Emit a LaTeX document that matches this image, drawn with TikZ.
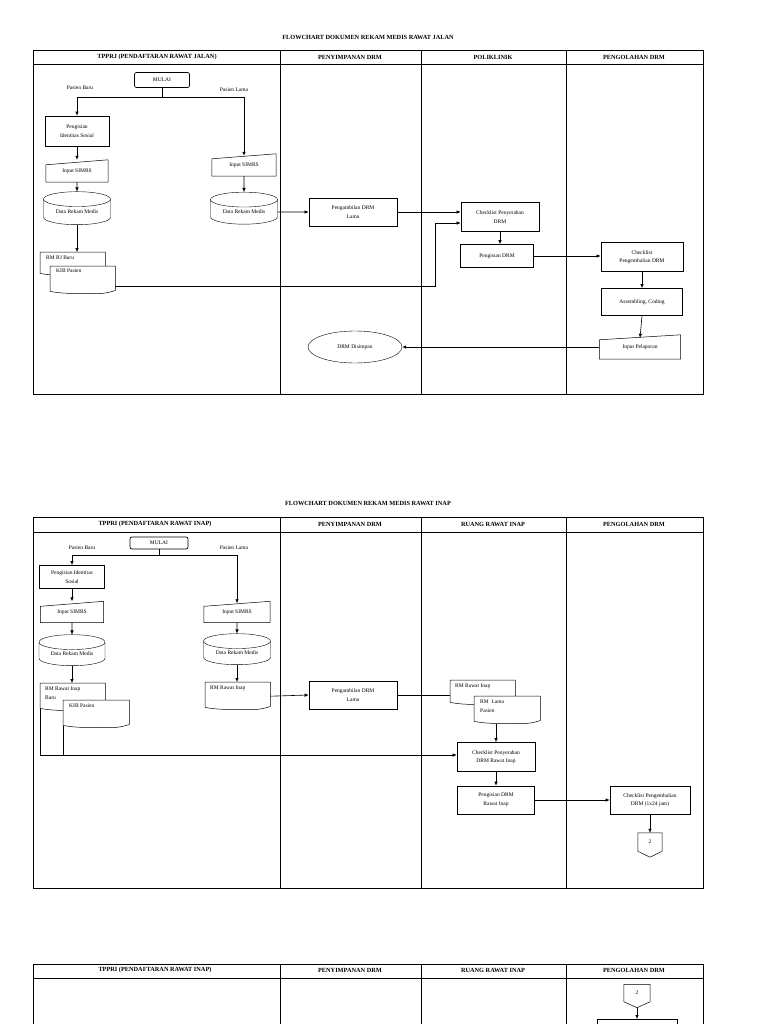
\documentclass[tikz,border=0pt]{standalone}
\usepackage{fontspec}
\setmainfont{Liberation Serif}
\usetikzlibrary{shapes.geometric,arrows.meta}
\begin{document}
\begin{tikzpicture}[x=1pt,y=-1pt,
  txt/.style={font=\fontsize{5.5}{6.5}\selectfont,align=center,inner sep=0pt},
  hd/.style={font=\fontsize{6.3}{7}\selectfont\bfseries,inner sep=0pt},
  proc/.style={txt,draw,line width=0.7pt},
  dbox/.style={txt,fill=white},
  cyl/.style={txt,draw,cylinder,shape border rotate=90,aspect=0.35,fill=white},
  arr/.style={-{Latex[length=4pt,width=3.5pt]},line width=0.6pt},
  ln/.style={line width=0.6pt}]
\useasboundingbox (0,0) rectangle (768,1024);
\clip (0,0) rectangle (768,1024);
\newcommand\docshp[1]{\draw[fill=white,line width=0.5pt] ([yshift=3pt]#1.south west) -- (#1.north west) -- (#1.north east) -- ([yshift=4pt]#1.south east) to[out=200,in=0] ([yshift=1pt]#1.south) to[out=180,in=-10] ([yshift=3pt]#1.south west);}
\newcommand\mishp[1]{\draw[fill=white,line width=0.5pt] ([yshift=-5pt]#1.north west) -- (#1.north east) -- (#1.south east) -- (#1.south west) -- cycle;}
\newcommand\offp[1]{\draw[line width=0.5pt] (#1.north west) -- (#1.north east) -- ([yshift=6pt]#1.south east) -- (#1.south) -- ([yshift=6pt]#1.south west) -- cycle;}
\newcommand\lanes[3]{%
 \draw[line width=0.8pt] (33,#1) rectangle (703,#3);
 \draw[line width=0.6pt] (33,#2) -- (703,#2);
 \foreach \xx in {280,421,566} \draw[line width=0.6pt] (\xx,#1) -- (\xx,#3);}
% ===== Chart 1
\node[hd] (t1) at (368,37) {FLOWCHART DOKUMEN REKAM MEDIS RAWAT JALAN};
\lanes{50}{64}{394}
\node[hd] (h11) at (157,57) {TPPRJ (PENDAFTARAN RAWAT JALAN)};
\node[hd] (h12) at (350,57) {PENYIMPANAN DRM};
\node[hd] (h13) at (493,57) {POLIKLINIK};
\node[hd] (h14) at (634,57) {PENGOLAHAN DRM};
\node[proc,rounded corners=2pt,minimum width=55,minimum height=15] (m1) at (162,80) {MULAI};
\coordinate (b1) at (162,97);
\coordinate (bl1) at (77,97);
\coordinate (br1) at (244,97);
\node[txt] (pb1) at (80,88) {Pasien Baru};
\node[txt] (pl1) at (234,90) {Pasien Lama};
\node[proc,minimum width=64,minimum height=30] (pi1) at (77,131) {Pengisian\\[2pt]Identitas Sosial};
\node[txt,minimum width=62,minimum height=22] (is1) at (77,171) {};
\mishp{is1}\node[txt] at (is1) {Input SIMRS};
\node[cyl,minimum width=67,minimum height=33] (c1) at (77,212) {Data Rekam Medis};
\node[dbox,minimum width=65,minimum height=24,anchor=north west] (rm1) at (40,252) {};
\docshp{rm1}
\node[txt,anchor=north west] at ([shift={(6pt,-4pt)}]rm1.north west) {RM RJ Baru};
\node[dbox,minimum width=65,minimum height=28,anchor=north west] (kib1) at (50,266) {};
\docshp{kib1}
\node[txt,anchor=north west] at ([shift={(6pt,-3pt)}]kib1.north west) {KIB Pasien};
\node[txt,minimum width=64,minimum height=22] (is1b) at (244,165) {};
\mishp{is1b}\node[txt] at (is1b) {Input SIMRS};
\node[cyl,minimum width=67,minimum height=32] (c1b) at (244,212) {Data Rekam Medis};
\node[proc,minimum width=88,minimum height=28] (pg1) at (353,212) {Pengambilan DRM\\[2pt]Lama};
\node[proc,minimum width=78,minimum height=29] (ck1) at (500,217) {Checklist Penyerahan\\[2pt]DRM};
\node[proc,minimum width=73,minimum height=23] (pd1) at (497,256) {Pengisian DRM};
\node[proc,minimum width=82,minimum height=29] (kp1) at (642,257) {Checklist\\[2pt]Pengembalian DRM};
\node[proc,minimum width=81,minimum height=27] (as1) at (642,302) {Assembling, Coding};
\node[txt,minimum width=81,minimum height=24] (ip1) at (640,347) {};
\mishp{ip1}\node[txt] at (ip1) {Input Pelaporan};
\node[txt,draw,ellipse,minimum width=94,minimum height=32] (ds1) at (355,347) {DRM Disimpan};
\draw[ln] (m1.south) -- (b1);
\draw[ln] (bl1) -- (br1);
\draw[arr] (bl1) -- (pi1.north);
\draw[arr] (br1) -- ([yshift=-2pt]is1b.north);
\draw[arr] (pi1.south) -- (is1.north);
\draw[arr] (is1.south) -- (c1.north);
\draw[arr] (c1.south) -- (rm1.north-|c1.south);
\draw[arr] (is1b.south) -- (c1b.north);
\draw[arr] (c1b.east) -- (pg1.west);
\draw[arr] (pg1.east) -- (pg1.east-|ck1.west);
\draw[arr] ([yshift=-6pt]kib1.east) -- ++(320,0) coordinate (k1) |- ([yshift=-6pt]ck1.west);
\draw[arr] (ck1.south) -- (pd1.north-|ck1.south);
\draw[arr] (pd1.east) -- (pd1.east-|kp1.west);
\draw[arr] (kp1.south) -- (as1.north-|kp1.south);
\draw[arr] (as1.south) -- ([yshift=-3pt]ip1.north);
\draw[arr] (ip1.west) -- (ds1.east);
% ===== Chart 2
\node[hd] (t2) at (368,503) {FLOWCHART DOKUMEN REKAM MEDIS RAWAT INAP};
\lanes{517}{532}{888}
\node[hd] (h21) at (155,524) {TPPRI (PENDAFTARAN RAWAT INAP)};
\node[hd] (h22) at (350,524) {PENYIMPANAN DRM};
\node[hd] (h23) at (493,524) {RUANG RAWAT INAP};
\node[hd] (h24) at (634,524) {PENGOLAHAN DRM};
\node[proc,rounded corners=2pt,minimum width=58,minimum height=12] (m2) at (159,543) {MULAI};
\coordinate (b2) at (159,555);
\coordinate (bl2) at (72,555);
\coordinate (br2) at (237,555);
\node[txt] (pb2) at (82,548) {Pasien Baru};
\node[txt] (pl2) at (234,548) {Pasien Lama};
\node[proc,minimum width=65,minimum height=23] (pi2) at (72,577) {Pengisian Identitas\\[2pt]Sosial};
\node[txt,minimum width=63,minimum height=21] (is2) at (72,612) {};
\mishp{is2}\node[txt] at (is2) {Input SIMRS};
\node[cyl,minimum width=66,minimum height=31] (c2) at (72,654) {Data Rekam Medis};
\node[dbox,minimum width=65,minimum height=28,anchor=north west] (rm2) at (40,683) {};
\docshp{rm2}
\node[txt,anchor=north west,align=left] at ([shift={(5pt,-4pt)}]rm2.north west) {RM Rawat Inap\\[2pt]Baru};
\node[dbox,minimum width=66,minimum height=28,anchor=north west] (kib2) at (63,700) {};
\docshp{kib2}
\node[txt,anchor=north west] at ([shift={(6pt,-4pt)}]kib2.north west) {KIB Pasien};
\node[txt,minimum width=66,minimum height=21] (is2b) at (237,612) {};
\mishp{is2b}\node[txt] at (is2b) {Input SIMRS};
\node[cyl,minimum width=67,minimum height=31] (c2b) at (237,653) {Data Rekam Medis};
\node[dbox,minimum width=65,minimum height=28,anchor=north west] (rm2b) at (205,682) {};
\docshp{rm2b}
\node[txt,anchor=north west] at ([shift={(5pt,-4pt)}]rm2b.north west) {RM Rawat Inap};
\node[proc,minimum width=88,minimum height=28] (pg2) at (353,695) {Pengambilan DRM\\[2pt]Lama};
\node[dbox,minimum width=65,minimum height=25,anchor=north west] (rm2c) at (450,680) {};
\docshp{rm2c}
\node[txt,anchor=north west] at ([shift={(5pt,-4pt)}]rm2c.north west) {RM Rawat Inap};
\node[dbox,minimum width=66,minimum height=28,anchor=north west] (lp2) at (474,696) {};
\docshp{lp2}
\node[txt,anchor=north west,align=left] at ([shift={(6pt,-4pt)}]lp2.north west) {RM\ \ Lama\\[2pt]Pasien};
\node[proc,minimum width=78,minimum height=29] (ck2) at (496,757) {Checklist Penyerahan\\[2pt]DRM Rawat Inap};
\node[proc,minimum width=77,minimum height=28] (pd2) at (496,800) {Pengisian DRM\\[2pt]Rawat Inap};
\node[proc,minimum width=80,minimum height=28] (kp2) at (650,800) {Checklist Pengembalian\\[2pt]DRM (1x24 jam)};
\node[txt,minimum width=24,minimum height=24] (o2) at (650,845) {};
\offp{o2}\node[txt] at ([yshift=3pt]o2) {2};
\draw[ln] (m2.south) -- (b2);
\draw[ln] (bl2) -- (br2);
\draw[arr] (bl2) -- (pi2.north);
\draw[arr] (br2) -- ([yshift=-2pt]is2b.north);
\draw[arr] (pi2.south) -- (is2.north);
\draw[arr] (is2.south) -- (c2.north);
\draw[arr] (c2.south) -- (rm2.north-|c2.south);
\draw[arr] (is2b.south) -- (c2b.north);
\draw[arr] (c2b.south) -- (rm2b.north-|c2b.south);
\draw[arr] (rm2b.east) -- (pg2.west);
\draw[ln] (pg2.east) -- (pg2.east-|rm2c.west);
\draw[arr] (lp2.south-|ck2.north) -- (ck2.north);
\draw[ln] ([yshift=3pt]rm2.south west) -- (40,755) coordinate (lc2);
\draw[ln] ([yshift=2pt]kib2.south west) -- (63,755);
\draw[arr] (lc2) -- (lc2-|ck2.west);
\draw[arr] (ck2.south) -- (pd2.north);
\draw[arr] (pd2.east) -- (kp2.west);
\draw[arr] (kp2.south) -- (o2.north);
% ===== Chart 3
\lanes{964}{978}{1030}
\node[hd] (h31) at (155,970) {TPPRI (PENDAFTARAN RAWAT INAP)};
\node[hd] (h32) at (350,970) {PENYIMPANAN DRM};
\node[hd] (h33) at (493,970) {RUANG RAWAT INAP};
\node[hd] (h34) at (634,970) {PENGOLAHAN DRM};
\node[txt,minimum width=26,minimum height=23] (o3) at (637,996) {};
\offp{o3}\node[txt] at ([yshift=3pt]o3) {2};
\node[proc,minimum width=80,minimum height=28,anchor=north] (as3) at (637,1019) {};
\draw[arr] (o3.south) -- (as3.north);
\end{tikzpicture}
\end{document}
